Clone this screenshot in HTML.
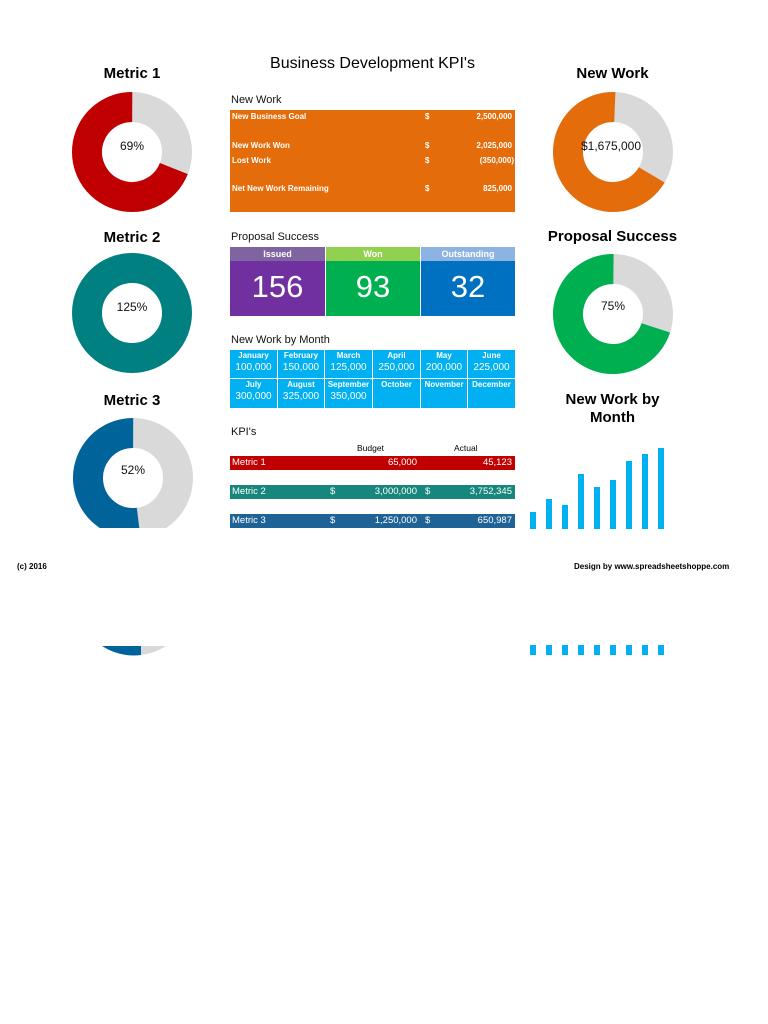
<!DOCTYPE html>
<html><head><style>
body{margin:0;width:768px;height:1024px;background:#fff;font-family:"Liberation Sans",sans-serif;position:relative;overflow:hidden}
.a{position:absolute}
.t{font-weight:bold;font-size:15px;color:#000;text-align:center}
.s{font-size:11px;color:#111}
.w{color:#fff;font-size:8px;font-weight:bold}
.m{position:absolute;background:#00b0f0;color:#fff;text-align:center;font-size:8px;font-weight:bold;line-height:12px}
.m b{display:block;font-size:10px;font-weight:normal}
.k{position:absolute;left:230px;width:285px;height:14px;color:#fff;font-size:9.5px;line-height:14px}
.k span{position:absolute}
</style></head><body>
<div class="a" style="left:230px;width:285px;top:55px;text-align:center;font-size:16px">Business Development KPI's</div>
<div class="a t" style="left:72px;width:120px;top:65px">Metric 1</div>
<div class="a t" style="left:72px;width:120px;top:229px">Metric 2</div>
<div class="a t" style="left:72px;width:120px;top:392px">Metric 3</div>
<div class="a t" style="left:540px;width:145px;top:65px">New Work</div>
<div class="a t" style="left:530px;width:165px;top:228px">Proposal Success</div>
<div class="a t" style="left:540px;width:145px;top:391px;line-height:18px">New Work by<br>Month</div>
<svg class="a" style="left:0;top:0" width="768" height="1024">
<defs><clipPath id="c"><rect x="0" y="0" width="768" height="528"/></clipPath></defs>
<g fill="none" stroke-width="30">
<circle cx="132" cy="152" r="45" stroke="#d9d9d9"/>
<circle cx="132" cy="152" r="45" stroke="#c00000" stroke-dasharray="195 400" transform="rotate(21.6 132 152)"/>
<circle cx="132" cy="313" r="45" stroke="#008080"/>
<g clip-path="url(#c)">
<circle cx="133" cy="478" r="45" stroke="#d9d9d9"/>
<circle cx="133" cy="478" r="45" stroke="#00649b" stroke-dasharray="147 400" transform="rotate(82.8 133 478)"/>
</g>
<circle cx="613" cy="152" r="45" stroke="#d9d9d9"/>
<circle cx="613" cy="152" r="45" stroke="#e46c0a" stroke-dasharray="189.5 400" transform="rotate(30.6 613 152)"/>
<circle cx="613" cy="314" r="45" stroke="#d9d9d9"/>
<circle cx="613" cy="314" r="45" stroke="#00b050" stroke-dasharray="198 400" transform="rotate(18 613 314)"/>
</g>
<path d="M102 646 L166 646 A59 59 0 0 1 102 646Z" fill="#d9d9d9"/>
<path d="M102 646 L141 646 L141 655 A59 59 0 0 1 102 646Z" fill="#00649b"/>
<g fill="#00b0f0">
<rect x="530" y="512" width="6" height="17"/><rect x="546" y="499" width="6" height="30"/><rect x="562" y="505" width="6" height="24"/>
<rect x="578" y="474" width="6" height="55"/><rect x="594" y="487" width="6" height="42"/><rect x="610" y="480" width="6" height="49"/>
<rect x="626" y="461" width="6" height="68"/><rect x="642" y="454" width="6" height="75"/><rect x="658" y="448" width="6" height="81"/>
<rect x="530" y="645" width="6" height="10"/><rect x="546" y="645" width="6" height="10"/><rect x="562" y="645" width="6" height="10"/>
<rect x="578" y="645" width="6" height="10"/><rect x="594" y="645" width="6" height="10"/><rect x="610" y="645" width="6" height="10"/>
<rect x="626" y="645" width="6" height="10"/><rect x="642" y="645" width="6" height="10"/><rect x="658" y="645" width="6" height="10"/>
</g>
<g font-family="Liberation Sans" font-size="12" text-anchor="middle" fill="#111">
<text x="132" y="150">69%</text><text x="132" y="311">125%</text><text x="133" y="474">52%</text>
<text x="611" y="150">$1,675,000</text><text x="613" y="310">75%</text>
</g>
</svg>
<div class="a s" style="left:231px;top:94px">New Work</div>
<div class="a" style="left:230px;top:110px;width:285px;height:102px;background:#e46c0a"></div>
<div class="a w" style="left:232px;top:112px">New Business Goal</div><div class="a w" style="left:425px;top:112px">$</div><div class="a w" style="left:440px;width:72px;text-align:right;top:112px">2,500,000</div>
<div class="a w" style="left:232px;top:141px">New Work Won</div><div class="a w" style="left:425px;top:141px">$</div><div class="a w" style="left:440px;width:72px;text-align:right;top:141px">2,025,000</div>
<div class="a w" style="left:232px;top:156px">Lost Work</div><div class="a w" style="left:425px;top:156px">$</div><div class="a w" style="left:440px;width:74px;text-align:right;top:156px">(350,000)</div>
<div class="a w" style="left:232px;top:184px">Net New Work Remaining</div><div class="a w" style="left:425px;top:184px">$</div><div class="a w" style="left:440px;width:72px;text-align:right;top:184px">825,000</div>
<div class="a s" style="left:231px;top:231px">Proposal Success</div>
<div class="a w" style="left:230px;top:247px;width:95px;height:14px;line-height:14px;text-align:center;background:#8064a2;font-size:9px">Issued</div>
<div class="a w" style="left:326px;top:247px;width:94px;height:14px;line-height:14px;text-align:center;background:#92d050;font-size:9px">Won</div>
<div class="a w" style="left:421px;top:247px;width:94px;height:14px;line-height:14px;text-align:center;background:#8db3e2;font-size:9px">Outstanding</div>
<div class="a" style="left:230px;top:261px;width:95px;height:55px;background:#7030a0;color:#fff;font-size:31px;text-align:center;line-height:52px">156</div>
<div class="a" style="left:326px;top:261px;width:94px;height:55px;background:#00b050;color:#fff;font-size:31px;text-align:center;line-height:52px">93</div>
<div class="a" style="left:421px;top:261px;width:94px;height:55px;background:#0070c0;color:#fff;font-size:31px;text-align:center;line-height:52px">32</div>
<div class="a s" style="left:231px;top:334px">New Work by Month</div>
<div class="m" style="left:230px;top:350px;width:47px;height:28px">January<b>100,000</b></div>
<div class="m" style="left:278px;top:350px;width:46px;height:28px">February<b>150,000</b></div>
<div class="m" style="left:325px;top:350px;width:47px;height:28px">March<b>125,000</b></div>
<div class="m" style="left:373px;top:350px;width:47px;height:28px">April<b>250,000</b></div>
<div class="m" style="left:421px;top:350px;width:46px;height:28px">May<b>200,000</b></div>
<div class="m" style="left:468px;top:350px;width:47px;height:28px">June<b>225,000</b></div>
<div class="m" style="left:230px;top:379px;width:47px;height:29px">July<b>300,000</b></div>
<div class="m" style="left:278px;top:379px;width:46px;height:29px">August<b>325,000</b></div>
<div class="m" style="left:325px;top:379px;width:47px;height:29px">September<b>350,000</b></div>
<div class="m" style="left:373px;top:379px;width:47px;height:29px">October</div>
<div class="m" style="left:421px;top:379px;width:46px;height:29px">November</div>
<div class="m" style="left:468px;top:379px;width:47px;height:29px">December</div>
<div class="a s" style="left:231px;top:426px">KPI's</div>
<div class="a" style="left:357px;top:443px;font-size:8.5px">Budget</div>
<div class="a" style="left:454px;top:443px;font-size:8.5px">Actual</div>
<div class="k" style="top:456px;background:#c00000"><span style="left:2px">Metric 1</span><span style="right:98px">65,000</span><span style="right:3px">45,123</span></div>
<div class="k" style="top:485px;background:#17877d"><span style="left:2px">Metric 2</span><span style="left:100px">$</span><span style="right:98px">3,000,000</span><span style="left:195px">$</span><span style="right:3px">3,752,345</span></div>
<div class="k" style="top:514px;background:#1f6396"><span style="left:2px">Metric 3</span><span style="left:100px">$</span><span style="right:98px">1,250,000</span><span style="left:195px">$</span><span style="right:3px">650,987</span></div>
<div class="a" style="left:17px;top:562px;font-size:8px;font-weight:bold">(c) 2016</div>
<div class="a" style="left:574px;top:562px;font-size:8px;font-weight:bold">Design by www.spreadsheetshoppe.com</div>
</body></html>
